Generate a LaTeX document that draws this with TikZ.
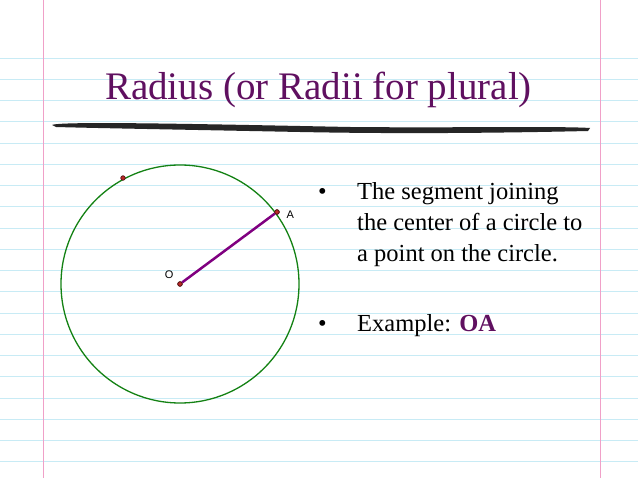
\documentclass[tikz,border=0pt]{standalone}
\usepackage{fontspec}
\setmainfont{Liberation Serif}
\setsansfont{Liberation Sans}
\begin{document}
\begin{tikzpicture}[x=1pt,y=-1pt,
  rule/.style={draw={rgb,255:red,200;green,235;blue,245},line width=0.8pt},
  margin/.style={draw={rgb,255:red,240;green,160;blue,200},line width=0.9pt},
  pt/.style={circle,draw={rgb,255:red,80;green,20;blue,20},fill={rgb,255:red,190;green,40;blue,40},inner sep=0pt,minimum size=4.5pt,line width=0.7pt},
  body/.style={anchor=base west,font=\fontsize{24.5}{28}\selectfont,inner sep=0pt}]
\definecolor{ttl}{RGB}{96,16,96}
\definecolor{seg}{RGB}{128,0,128}
\definecolor{circ}{RGB}{20,130,20}
\useasboundingbox (0,0) rectangle (638,478);
\fill[white] (0,0) rectangle (638,478);
\foreach \k in {0,...,19} \draw[rule] (0,{58+21.25*\k}) -- (638,{58+21.25*\k});
\draw[margin] (43,0) -- (43,478);
\draw[margin] (600,0) -- (600,478);
\node[anchor=base,font=\fontsize{39}{44}\selectfont,text=ttl,inner sep=0pt] (title) at (318.5,100) {Radius (or Radii for plural)};
\fill[black!85] (52,125) .. controls (60,121) and (200,124) .. (350,127) .. controls (450,128) and (560,126) .. (590,128) -- (588,131) .. controls (500,133) and (400,134) .. (300,132) .. controls (200,130) and (90,128) .. (56,127) -- cycle;
\coordinate (O) at (180,284);
\draw[circ,line width=1.3pt] (O) circle[radius=119];
\node[pt] (A) at (277,212) {};
\node[pt] (P) at (123,178) {};
\node[pt] (Od) at (O) {};
\draw[seg,line width=2.5pt] (Od) -- (A);
\node[pt] at (A) {};
\node[pt] at (O) {};
\node[font=\sffamily\fontsize{11}{13}\selectfont,anchor=west] (lA) at (283,215) {A};
\node[font=\sffamily\fontsize{11}{13}\selectfont,anchor=east] (lO) at (177,275) {O};
\node[body] (b1) at (318,200) {•};
\node[body] (t1) at (357,200) {The segment joining};
\node[body] (t2) at (357,231) {the center of a circle to};
\node[body] (t3) at (357,262) {a point on the circle.};
\node[body] (b2) at (318,332) {•};
\node[body] (t4) at (357,332) {Example: \textcolor{ttl}{\textbf{OA}}};
\end{tikzpicture}
\end{document}
